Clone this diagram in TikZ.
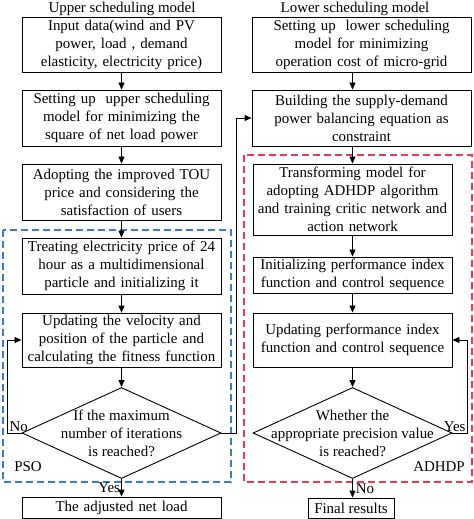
\documentclass[tikz,border=0pt]{standalone}
\usepackage{fontspec}
\setmainfont{Liberation Serif}
\usetikzlibrary{shapes.geometric,arrows.meta}
\definecolor{psoblue}{RGB}{58,124,200}
\definecolor{adhdpred}{RGB}{232,58,82}
\begin{document}
\begin{tikzpicture}[x=1bp,y=-1bp,line width=0.9bp,
  font=\fontsize{15}{18}\selectfont,
  every node/.style={inner sep=0pt},
  lbox/.style={draw,rectangle,text width=199bp,align=center,minimum height=#1},
  wbox/.style={draw,rectangle,text width=219bp,align=center,minimum height=#1},
  dec/.style={draw,diamond,minimum width=199bp,minimum height=91bp},
  arr/.style={-{Triangle[length=7bp,width=6bp]}},
  frame/.style={line width=1.3bp,dash pattern=on 7bp off 4bp}]
\useasboundingbox (0,0) rectangle (474,519);
\draw [frame,psoblue] (3,230) rectangle (231,482);
\draw [frame,adhdpred] (244,155) rectangle (472,482);
\node (uptitle) at (122,9) {Upper scheduling model};
\node (lowtitle) at (355,9) {Lower scheduling model};
\node[lbox=55bp] (indata) at (121.5,44.5) {Input data(wind and PV\\power, load , demand\\elasticity, electricity price)};
\node[lbox=56bp] (upmodel) at (121.5,118) {Setting up~ upper scheduling\\model for minimizing the\\square of net load power};
\node[lbox=56bp] (tou) at (121.5,192) {Adopting the improved TOU\\price and considering the\\satisfaction of users};
\node[lbox=56bp] (particle) at (121.5,266) {Treating electricity price of 24\\hour as a multidimensional\\particle and initializing it};
\node[lbox=54bp] (velocity) at (121.5,340) {Updating the velocity and\\position of the particle and\\calculating the fitness function};
\node[dec] (maxiter) at (121.5,433) {};
\node (maxitertxt) at (maxiter) [align=center] {If the maximum\\number of iterations\\is reached?};
\node[lbox=21bp] (netload) at (121.5,507.5) {The adjusted net load};
\node (pso) at (28,467) {PSO};
\node[wbox=55bp] (lowmodel) at (361.5,44.5) {Setting up~ lower scheduling\\model for minimizing\\operation cost of micro-grid};
\node[wbox=56bp] (balance) at (361.5,118) {Building the supply-demand\\power balancing equation as\\constraint};
\node[lbox=71bp] (adhdp) at (352.5,199.5) {Transforming model for\\adopting ADHDP algorithm\\and training critic network and\\action network};
\node[lbox=36bp] (initidx) at (352.5,275) {Initializing performance index\\function and control sequence};
\node[lbox=54bp] (updidx) at (352.5,340) {Updating performance index\\function and control sequence};
\node[dec] (precision) at (352.5,433) {};
\node (precisiontxt) at (precision) [align=center] {Whether the\\appropriate precision value\\is reached?};
\node[draw,rectangle,minimum width=86bp,minimum height=20bp] (results) at (351,508) {Final results};
\node (adhdplbl) at (439,467) {ADHDP};
\draw [arr] (indata) -- (upmodel);
\draw [arr] (upmodel) -- (tou);
\draw [arr] (tou) -- (particle);
\draw [arr] (particle) -- (velocity);
\draw [arr] (velocity) -- (maxiter);
\draw [arr] (maxiter) -- (netload) node [pos=0.5,left=1bp] {Yes};
\draw [arr] (maxiter.west) -- ++(-14,0) node [pos=0.2,above=1bp] {No} |- (velocity.west);
\draw [arr] (maxiter.east) -- ++(14.5,0) |- (balance.west);
\draw [arr] (adhdp.north |- lowmodel.south) -- (adhdp.north |- balance.north);
\draw [arr] (adhdp.north |- balance.south) -- (adhdp);
\draw [arr] (adhdp) -- (initidx);
\draw [arr] (initidx) -- (updidx);
\draw [arr] (updidx) -- (precision);
\draw [arr] (precision.south) -- (precision.south |- results.north) node [pos=0.5,right=3bp] {No};
\draw [arr] (precision.east) -- ++(14.5,0) node [anchor=south east,inner sep=1bp] {Yes} |- (updidx.east);
\end{tikzpicture}
\end{document}
